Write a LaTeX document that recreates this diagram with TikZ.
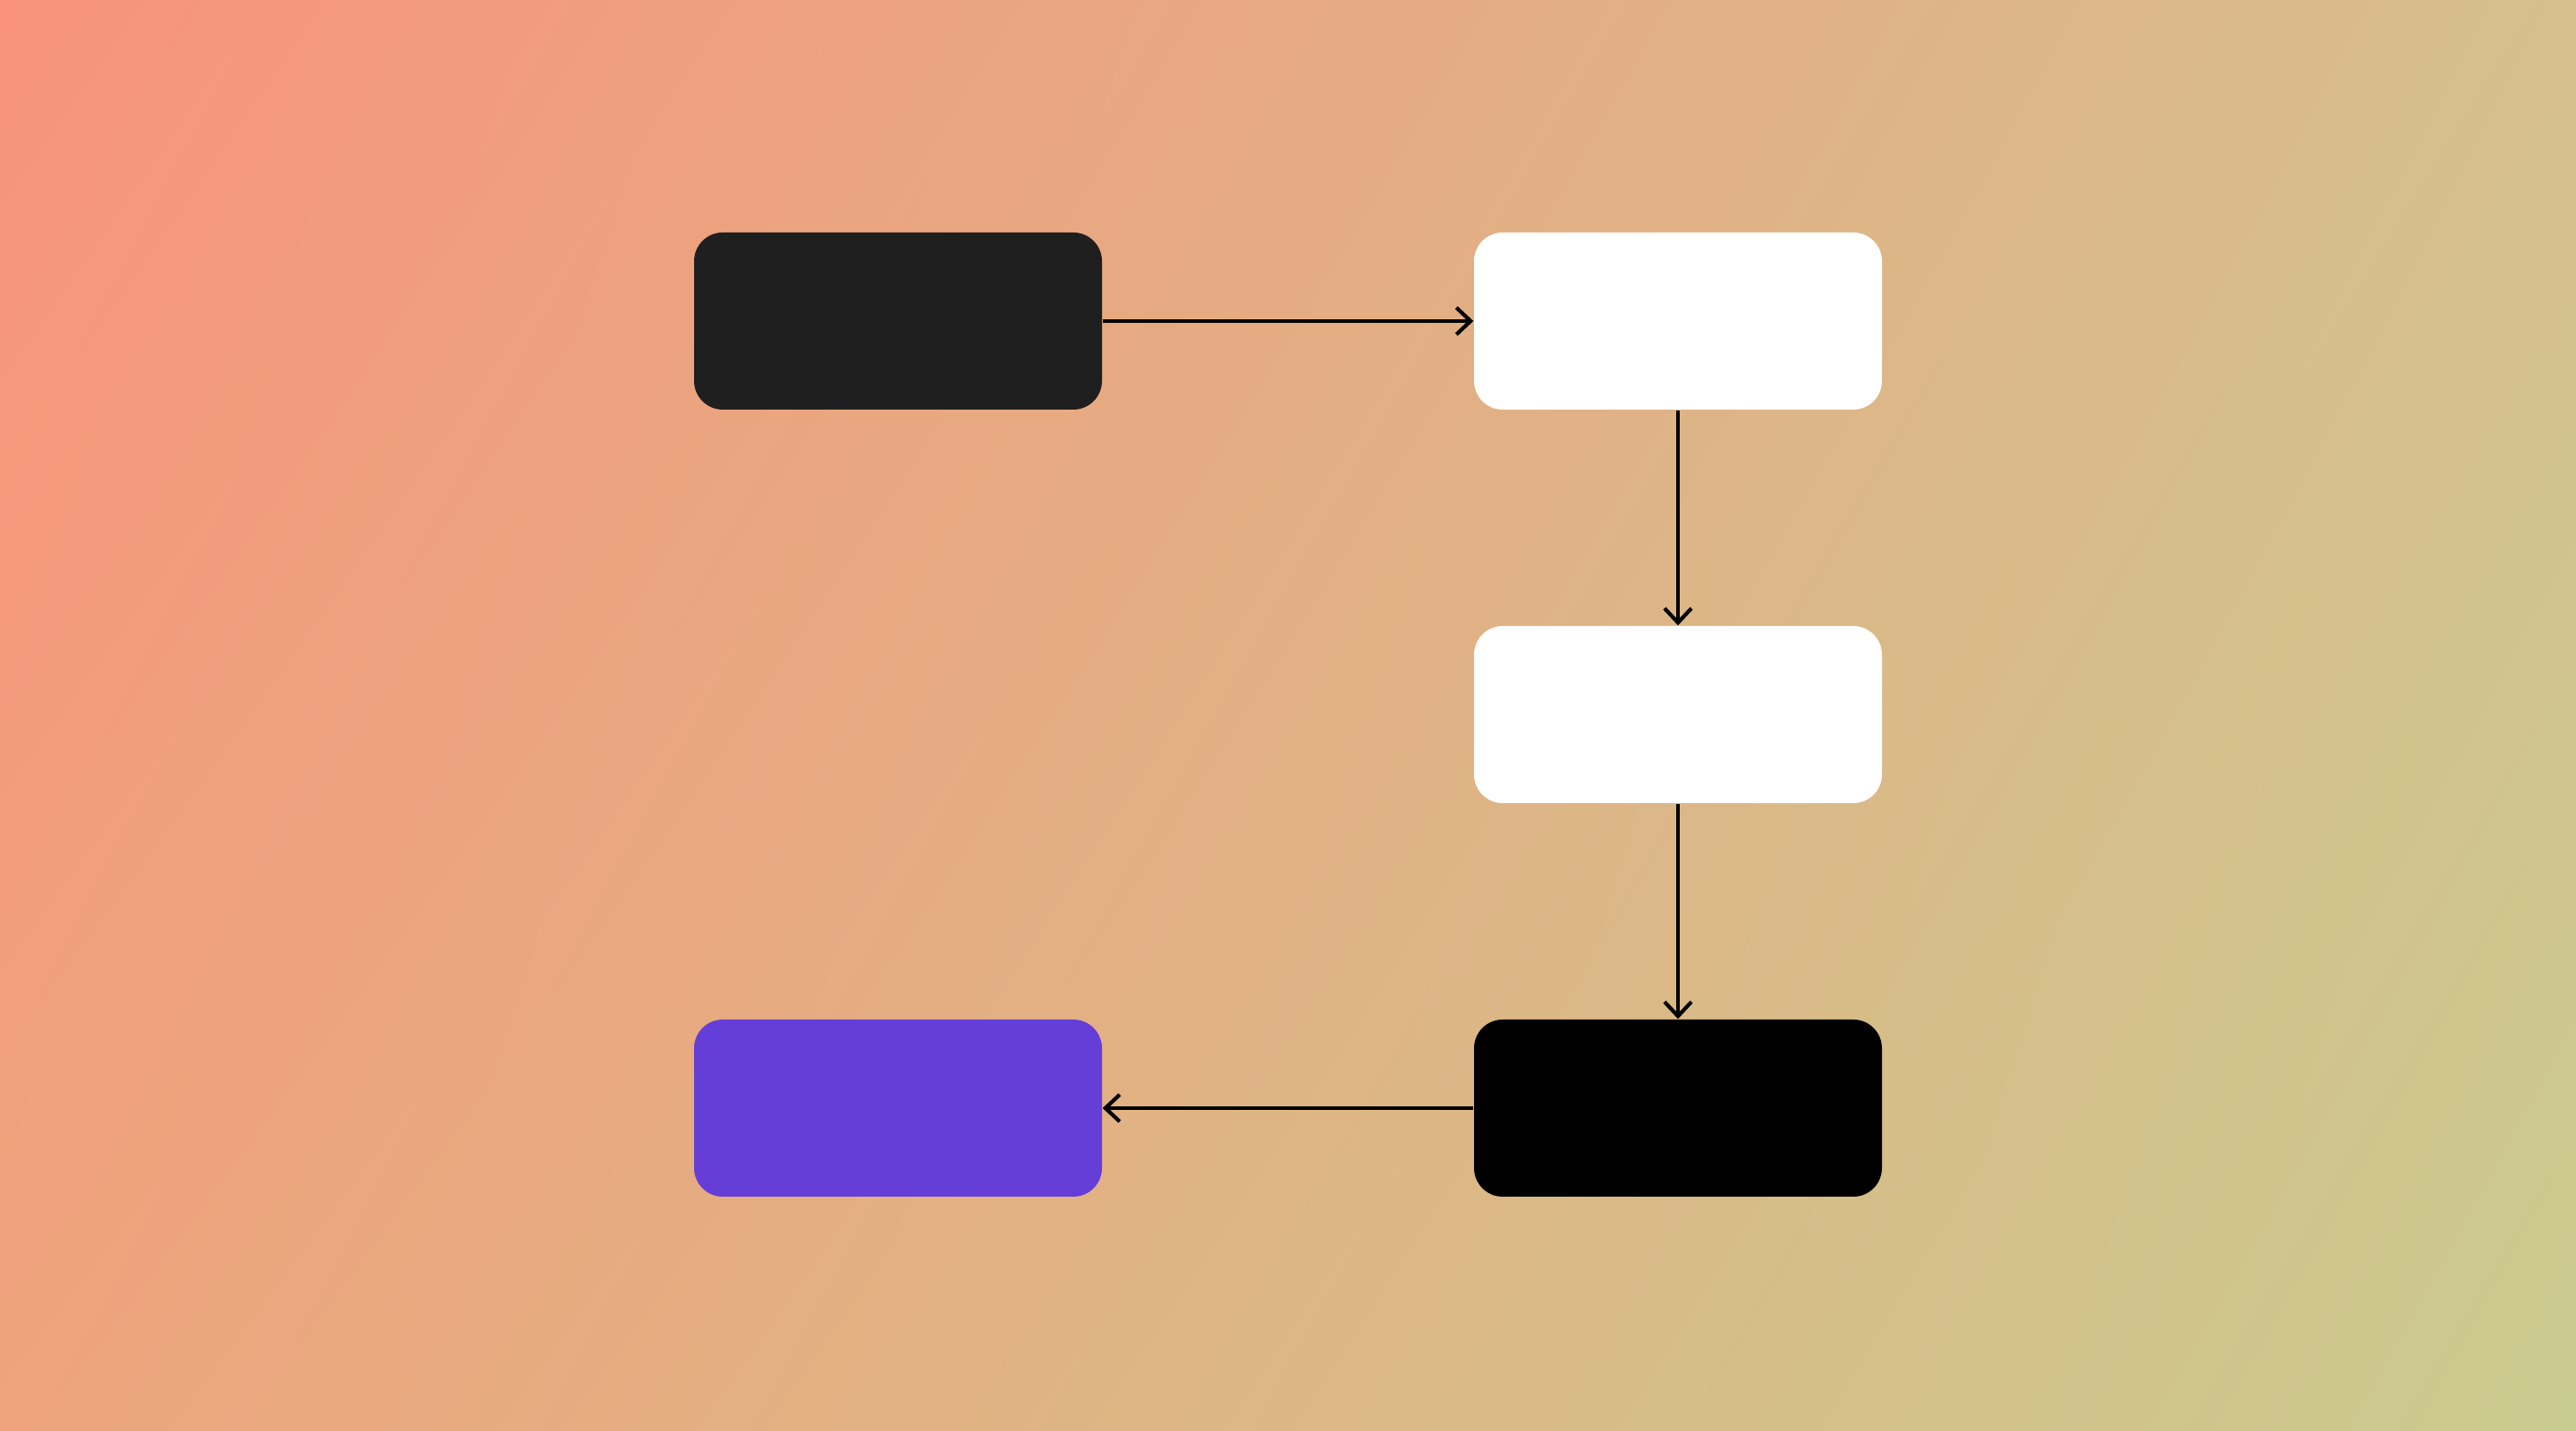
\documentclass[tikz,border=0pt]{standalone}
\usetikzlibrary{arrows.meta,shadings}
\definecolor{bgUL}{HTML}{F8937A}
\definecolor{bgUR}{HTML}{D6BF8B}
\definecolor{bgLL}{HTML}{EEA47D}
\definecolor{bgLR}{HTML}{CACB8E}
\definecolor{darkbox}{HTML}{1F1F1F}
\definecolor{purplebox}{HTML}{653ED8}
\begin{document}
\begin{tikzpicture}[
    box/.style={rectangle, rounded corners=0.32cm, minimum width=4.56cm, minimum height=1.98cm, inner sep=0pt},
    link/.style={line width=1.2pt, -{Straight Barb[length=0.16cm, width=0.3cm, line width=1.2pt]}}
  ]
            \shade[upper left=bgUL, upper right=bgUR, lower left=bgLL, lower right=bgLR] (0,0) rectangle (28.8,16);
            \useasboundingbox (0,0) rectangle (28.8,16);

            \node[box, fill=darkbox] (A) at (10.04,12.41) {};
            \node[box, fill=white] (B) at (18.76,12.41) {};
            \node[box, fill=white] (C) at (18.76,8.01) {};
            \node[box, fill=black] (D) at (18.76,3.61) {};
            \node[box, fill=purplebox] (final) at (10.04,3.61) {};

            \draw[link] (A) -- (B);
            \draw[link] (B) -- (C);
            \draw[link] (C) -- (D);
            \draw[link] (D) -- (final);

        \end{tikzpicture}
\end{document}
